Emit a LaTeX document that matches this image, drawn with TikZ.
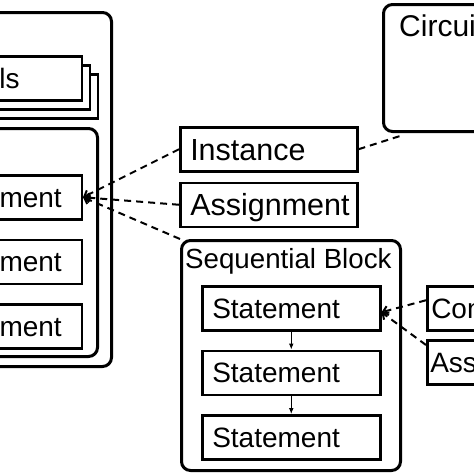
\documentclass[tikz,border=0pt]{standalone}
\usepackage{fontspec}
\setmainfont{Liberation Sans}
\usetikzlibrary{arrows.meta, positioning}

\begin{document}
\begin{tikzpicture}[
  x=1pt, y=-1pt,
  node distance = 18pt,
  group/.style = {
    draw, line width=3pt, rounded corners=9pt,
    fill=white, inner sep=0pt
  },
  box/.style = {
    rectangle, draw, line width=2.5pt, fill=white,
    minimum height=44pt, inner ysep=0pt,
    text height=20pt, text depth=0pt,
    font=\fontsize{28}{32}\selectfont
  },
  lbox/.style   = {box, align=left, inner xsep=10pt},
  bigbox/.style = {lbox, text height=21.5pt, font=\fontsize{30.5}{34}\selectfont},
  dep/.style    = {dashed, dash pattern=on 7pt off 5pt, line width=2pt},
  deparr/.style = {dep, -{Straight Barb[length=5pt, width=9pt, line width=2pt]}},
  flow/.style   = {line width=1.3pt, -{Latex[length=6pt, width=5pt]}}
]
\useasboundingbox (0,0) rectangle (474,474);
\clip (0,0) rectangle (474,474);

%% ---- component on the left (cut off) ----
\node[group, minimum width=143pt, minimum height=354pt, anchor=north east]
  (comp) at (113,11) {};

\node[box, minimum width=216pt, anchor=north east] (sig3) at (99,73) {};
\node[box, minimum width=216pt, anchor=north east] (sig2) at (91,64) {};
\node[box, text width=176pt, align=center, inner xsep=20pt, anchor=north east]
  (sig1) at (83,55) {Signals};

\node[group, minimum width=130pt, minimum height=228pt, anchor=north east]
  (body) at (99,127) {};

\node[box, text width=143pt, align=right, inner xsep=20pt, anchor=north east]
  (ls1) at (83,174) {Statement};
\node[box, text width=143pt, align=right, inner xsep=20pt, below=of ls1] (ls2) {Statement};
\node[box, text width=143pt, align=right, inner xsep=20pt, below=of ls2] (ls3) {Statement};

%% ---- statement kinds ----
\node[bigbox, text width=157pt, anchor=north west] (inst) at (179,126) {Instance};
\node[bigbox, text width=157pt, below=9pt of inst] (asgn) {Assignment};

%% ---- circuit (cut off) ----
\node[group, minimum width=150pt, minimum height=127pt, anchor=north west]
  (circ) at (382,3) {};
\node[anchor=base west, inner sep=0pt, font=\fontsize{30}{34}\selectfont]
  (circt) at (399,36) {Circuit};

%% ---- sequential block ----
\node[group, minimum width=219pt, minimum height=230pt, anchor=north west]
  (seqb) at (180,239) {};
\node[anchor=base west, inner sep=0pt, font=\fontsize{27.7}{32}\selectfont]
  (seqt) at (185,268) {Sequential Block};

\node[lbox, text width=158pt, anchor=north west] (ss1) at (201,285) {Statement};
\node[lbox, text width=158pt, below=of ss1] (ss2) {Statement};
\node[lbox, text width=158pt, below=of ss2] (ss3) {Statement};

\draw[flow] (ss1) -- (ss2);
\draw[flow] (ss2) -- (ss3);

%% ---- sequential statement kinds (cut off) ----
\node[box, text width=120pt, align=left, inner xsep=4pt, anchor=north west]
  (cond) at (426,285) {Conditional};
\node[box, text width=120pt, align=left, inner xsep=3pt, anchor=north west]
  (asgn2) at (426,339) {Assignment};

%% ---- dashed links ----
\draw[deparr] (inst.west) -- (ls1.east);
\draw[deparr] (asgn.west) -- (ls1.east);
\draw[deparr] (seqb.north west) -- (ls1.east);
\draw[dep] (inst.east) -- ([xshift=18pt, yshift=-3pt]circ.south west);

\draw[deparr] ([yshift=8pt]cond.west) -- ([yshift=-4pt]ss1.east);
\draw[deparr] ([yshift=-6pt]asgn2.north west) -- ([yshift=-4pt]ss1.east);

\end{tikzpicture}
\end{document}
